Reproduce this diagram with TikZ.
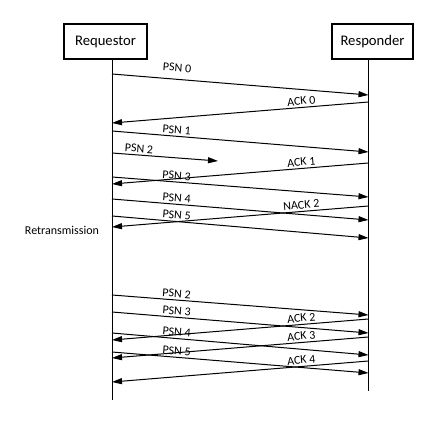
\documentclass[tikz,border=0pt]{standalone}
\usepackage{fontspec}
\setmainfont{Carlito}
\usetikzlibrary{arrows.meta}
\begin{document}
\begin{tikzpicture}[x=0.75pt,y=-0.75pt,
  actor/.style={draw,line width=0.8pt,minimum height=26.25pt,inner sep=0pt,font=\fontsize{11}{13}\selectfont},
  life/.style={line width=0.75pt},
  msg/.style={line width=0.75pt,-{Triangle[length=7.5pt,width=4.5pt]}},
  lbl/.style={font=\fontsize{9}{11}\selectfont,sloped,above,inner sep=1.5pt}]
\useasboundingbox (0,0) rectangle (424,424);
\node[actor,minimum width=62.25pt] (req) at (105.5,41.5) {Requestor};
\node[actor,minimum width=60.75pt] (res) at (372.5,41.5) {Responder};
\coordinate (rqtop) at (112,59);
\coordinate (rqbot) at (112,400);
\coordinate (rstop) at (368.5,59);
\coordinate (rsbot) at (368.5,391);
\draw[life] (rqtop) -- (rqbot);
\draw[life] (rstop) -- (rsbot);
% endpoints
\foreach \n/\y in {a/74,b/123,c/131,d/153,e/184,f/177,g/199,h/227,i/216,j/295,k/312,l/340,m/333,n/358,o/352,p/382}
  \coordinate (L\n) at (112,\y);
\foreach \n/\y in {a/95,b/102,c/152,e/163,f/197,g/220,h/206,i/238,j/315,k/333,l/319,m/355,n/337,o/373,p/361}
  \coordinate (R\n) at (368.5,\y);
\coordinate (Dend) at (218,161);
\draw[msg] (La) -- node[lbl,pos=0.25,above=4pt] {PSN 0} (Ra);
\draw[msg] (Rb) -- node[lbl,pos=0.26] {ACK 0} (Lb);
\draw[msg] (Lc) -- node[lbl,pos=0.25] {PSN 1} (Rc);
\draw[msg] (Ld) -- node[lbl,pos=0.25] {PSN 2} (Dend);
\draw[msg] (Re) -- node[lbl,pos=0.26] {ACK 1} (Le);
\draw[msg] (Lf) -- node[lbl,pos=0.25] {PSN 3} (Rf);
\draw[msg] (Lg) -- node[lbl,pos=0.25] {PSN 4} (Rg);
\draw[msg] (Rh) -- node[lbl,pos=0.26] {NACK 2} (Lh);
\draw[msg] (Li) -- node[lbl,pos=0.25] {PSN 5} (Ri);
\node[font=\fontsize{9}{11}\selectfont] (retx) at (62,230) {Retransmission};
\draw[msg] (Lj) -- node[lbl,pos=0.25] {PSN 2} (Rj);
\draw[msg] (Lk) -- node[lbl,pos=0.25] {PSN 3} (Rk);
\draw[msg] (Rl) -- node[lbl,pos=0.26] {ACK 2} (Ll);
\draw[msg] (Lm) -- node[lbl,pos=0.25] {PSN 4} (Rm);
\draw[msg] (Rn) -- node[lbl,pos=0.26] {ACK 3} (Ln);
\draw[msg] (Lo) -- node[lbl,pos=0.25] {PSN 5} (Ro);
\draw[msg] (Rp) -- node[lbl,pos=0.26] {ACK 4} (Lp);
\end{tikzpicture}
\end{document}
